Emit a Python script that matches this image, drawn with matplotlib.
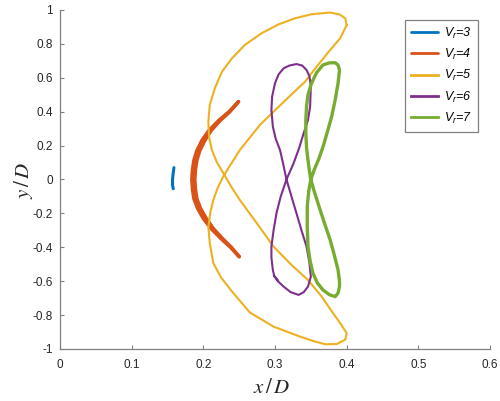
import matplotlib
matplotlib.use("Agg")
import matplotlib.pyplot as plt

# Trajectoires (x/D, y/D)
vr3_x = [0.159, 0.158, 0.157, 0.157, 0.158]
vr3_y = [0.070, 0.040, 0.000, -0.030, -0.055]

# Vr=4 : deux passages (bord ext. / bord int. du croissant)
vr4_y = [0.459, 0.40, 0.35, 0.29, 0.23, 0.17, 0.115, 0.06, 0.0,
         -0.06, -0.115, -0.17, -0.23, -0.29, -0.35, -0.40, -0.455]
vr4_x_out = [0.249, 0.236, 0.222, 0.208, 0.198, 0.191, 0.187, 0.185, 0.184,
             0.185, 0.187, 0.192, 0.200, 0.211, 0.225, 0.238, 0.250]
vr4_x_in = [0.249, 0.237, 0.224, 0.211, 0.202, 0.195, 0.191, 0.189, 0.188,
            0.189, 0.191, 0.196, 0.204, 0.214, 0.227, 0.239, 0.250]

vr5_x = [0.400, 0.398, 0.390, 0.377, 0.351, 0.328, 0.305, 0.281, 0.258, 0.240,
         0.226, 0.216, 0.209, 0.207, 0.208, 0.212, 0.219, 0.228,
         0.240, 0.251, 0.275, 0.298, 0.322, 0.346, 0.365, 0.381, 0.393, 0.400,
         0.398, 0.386, 0.370, 0.355, 0.335, 0.298, 0.265, 0.242, 0.225, 0.214,
         0.209, 0.207, 0.210, 0.214, 0.220, 0.228,
         0.240, 0.251, 0.279, 0.298, 0.320, 0.342, 0.358, 0.377, 0.391, 0.400]
vr5_y = [0.911, 0.951, 0.974, 0.985, 0.975, 0.951, 0.915, 0.862, 0.794, 0.715,
         0.636, 0.538, 0.440, 0.341, 0.250, 0.174, 0.100, 0.037,
         -0.050, -0.121, -0.260, -0.396, -0.500, -0.593, -0.690, -0.789, -0.860, -0.907,
         -0.945, -0.971, -0.972, -0.955, -0.927, -0.868, -0.785, -0.671, -0.580, -0.494,
         -0.376, -0.278, -0.190, -0.120, -0.050, 0.020,
         0.100, 0.174, 0.322, 0.400, 0.490, 0.577, 0.665, 0.764, 0.833, 0.911]

vr6_x = [0.304, 0.299, 0.297, 0.295, 0.295, 0.298, 0.302, 0.308, 0.316, 0.326,
         0.334, 0.340, 0.346, 0.349, 0.350, 0.348, 0.344, 0.338, 0.330, 0.320,
         0.312, 0.305, 0.300, 0.296, 0.295, 0.297, 0.301, 0.307, 0.312, 0.316,
         0.323, 0.330, 0.337, 0.344, 0.348, 0.350, 0.346, 0.340, 0.333, 0.322,
         0.312, 0.304, 0.299]
vr6_y = [-0.595, -0.570, -0.534, -0.460, -0.396, -0.300, -0.200, -0.100, 0.000, 0.096,
         0.190, 0.273, 0.350, 0.430, 0.548, 0.610, 0.646, 0.672, 0.681, 0.672,
         0.656, 0.620, 0.568, 0.490, 0.410, 0.312, 0.240, 0.174, 0.080, 0.000,
         -0.100, -0.200, -0.300, -0.396, -0.490, -0.573, -0.632, -0.665, -0.681, -0.665,
         -0.632, -0.600, -0.570]

vr7_x = [0.350, 0.354, 0.363, 0.370, 0.377, 0.383, 0.388, 0.390, 0.390, 0.388,
         0.384, 0.376, 0.367, 0.359, 0.353, 0.349, 0.346, 0.345, 0.345, 0.347,
         0.350, 0.355, 0.361, 0.367, 0.373, 0.379, 0.384, 0.388, 0.390, 0.388,
         0.384, 0.376, 0.367, 0.358, 0.351, 0.346, 0.344, 0.343, 0.343, 0.344,
         0.346, 0.348, 0.350]
vr7_y = [0.000, -0.060, -0.180, -0.270, -0.357, -0.450, -0.534, -0.600, -0.632, -0.670,
         -0.691, -0.680, -0.652, -0.610, -0.553, -0.480, -0.396, -0.280, -0.160, -0.070,
         0.000, 0.060, 0.120, 0.193, 0.280, 0.370, 0.470, 0.568, 0.646, 0.675,
         0.689, 0.688, 0.676, 0.630, 0.568, 0.500, 0.430, 0.350, 0.273, 0.190,
         0.115, 0.050, 0.000]

labels = ['3', '4', '5', '6', '7']
couleurs = ['#0072BD', '#D95319', '#EDB120', '#7E2F8E', '#77AC30']

x_ticks = [0, 0.1, 0.2, 0.3, 0.4, 0.5, 0.6]
x_tick_labels = ['0', '0.1', '0.2', '0.3', '0.4', '0.5', '0.6']
y_ticks = [-1, -0.8, -0.6, -0.4, -0.2, 0, 0.2, 0.4, 0.6, 0.8, 1]
y_tick_labels = ['-1', '-0.8', '-0.6', '-0.4', '-0.2', '0', '0.2', '0.4', '0.6', '0.8', '1']

plt.rcParams['font.family'] = ['Liberation Sans', 'DejaVu Sans']
plt.rcParams['mathtext.fontset'] = 'custom'
plt.rcParams['mathtext.it'] = 'Liberation Sans:italic'
plt.rcParams['mathtext.rm'] = 'Liberation Sans'

fig = plt.figure(figsize=(5, 4.01), dpi=100)
ax = fig.add_axes([0.12, 0.1297, 0.86, 0.8454])

l3, = ax.plot(vr3_x, vr3_y, color=couleurs[0], lw=2.2, solid_capstyle='round')
l4, = ax.plot(vr4_x_out, vr4_y, color=couleurs[1], lw=2.6, solid_capstyle='round')
ax.plot(vr4_x_in, vr4_y, color=couleurs[1], lw=2.6, solid_capstyle='round')
l5, = ax.plot(vr5_x, vr5_y, color=couleurs[2], lw=1.5)
l6, = ax.plot(vr6_x, vr6_y, color=couleurs[3], lw=1.5)
l7, = ax.plot(vr7_x, vr7_y, color=couleurs[4], lw=2.4)

ax.set_xlim(0, 0.6)
ax.set_ylim(-1, 1)
ax.set_xticks(x_ticks)
ax.set_xticklabels(x_tick_labels)
ax.set_yticks(y_ticks)
ax.set_yticklabels(y_tick_labels)

for s in ['top', 'right']:
    ax.spines[s].set_visible(False)
for s in ['left', 'bottom']:
    ax.spines[s].set_color('#808080')
    ax.spines[s].set_linewidth(0.9)
ax.tick_params(axis='both', direction='in', length=3, width=0.8,
               color='#808080', labelcolor='#262626', labelsize=8.5)
ax.tick_params(axis='x', pad=7)
ax.tick_params(axis='y', pad=5)

ax.set_xlabel(r'$x\,/\,D$', fontsize=15, color='#262626', math_fontfamily='stix')
ax.set_ylabel(r'$y\,/\,D$', fontsize=15, color='#262626', math_fontfamily='stix')
ax.xaxis.label.set_va('center')
ax.yaxis.label.set_va('center')
ax.xaxis.set_label_coords(0.492, -0.115)
ax.yaxis.set_label_coords(-0.084, 0.496)

leg = ax.legend([l3, l4, l5, l6, l7], [r'$V_r$=' + v for v in labels],
                loc='upper right', bbox_to_anchor=(0.972, 0.971),
                borderaxespad=0, fancybox=False, edgecolor='#808080',
                framealpha=1, handlelength=2.2, handletextpad=0.45,
                labelspacing=0.5, borderpad=0.45,
                prop={'style': 'italic', 'size': 9})
leg.get_frame().set_linewidth(0.9)
for h in leg.get_lines():
    h.set_linewidth(2.0)

fig.savefig('out.png', dpi=100)
